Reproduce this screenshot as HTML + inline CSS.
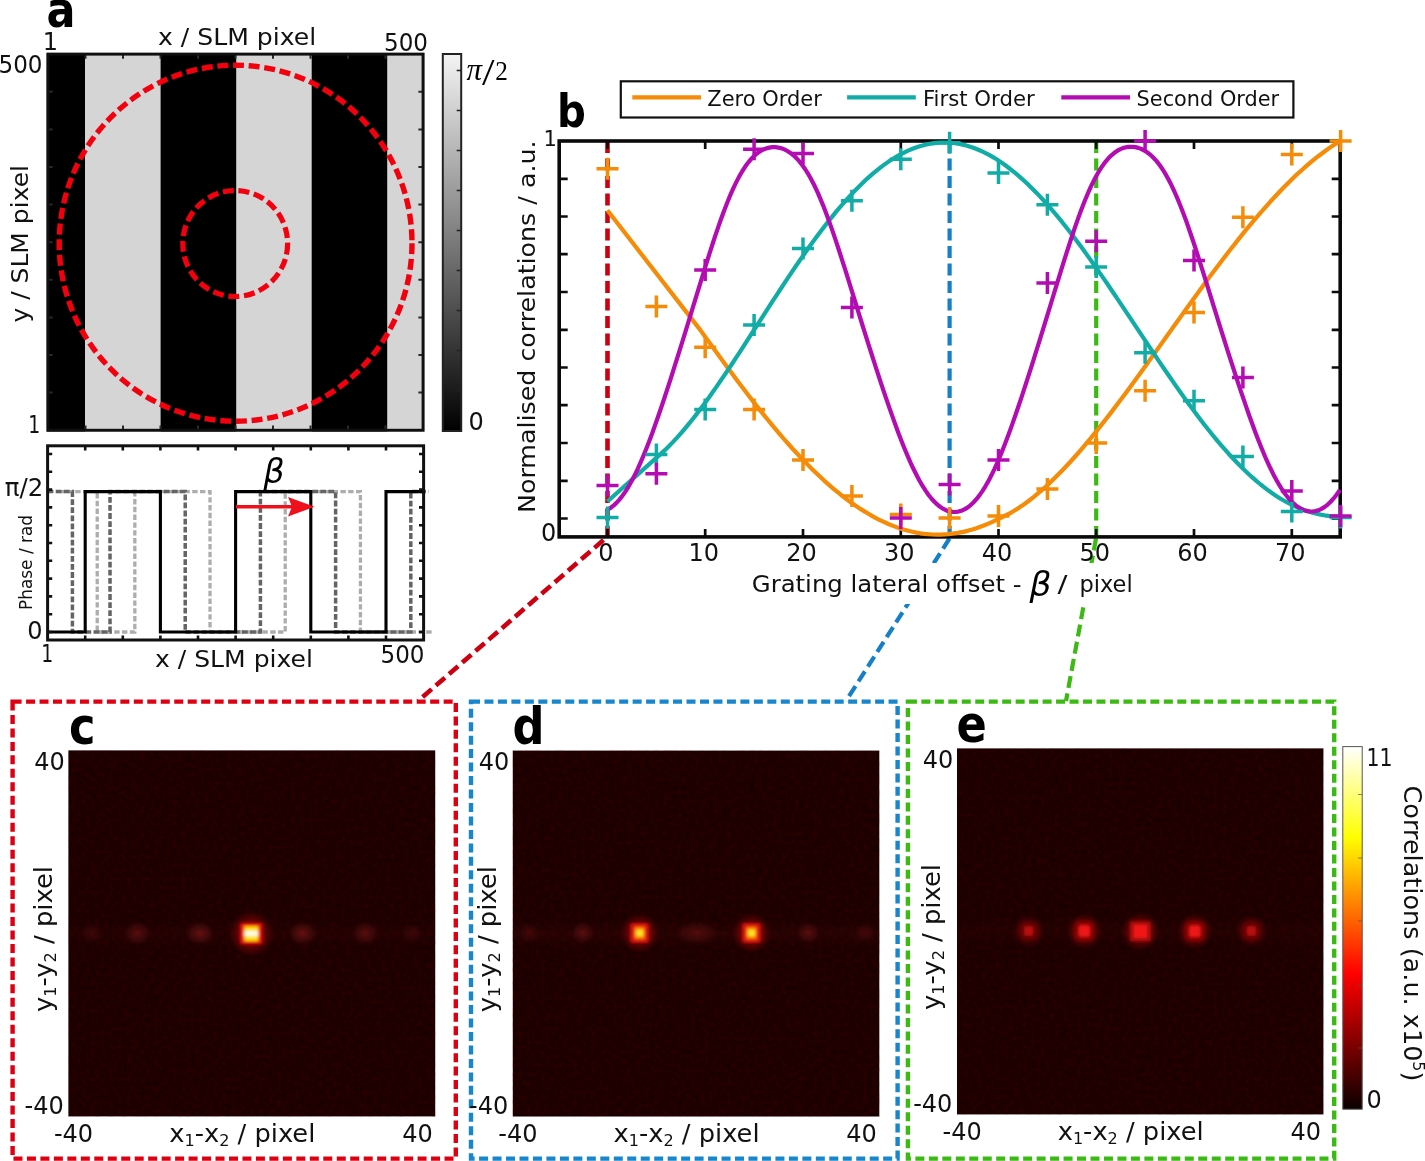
<!DOCTYPE html>
<html lang="en"><head><meta charset="utf-8"><title>Figure</title>
<style>html,body{margin:0;padding:0;background:#fff}svg{display:block}</style></head>
<body>
<svg width="1425" height="1161" viewBox="0 0 1425 1161">
<defs>
<linearGradient id="gray" x1="0" y1="0" x2="0" y2="1"><stop offset="0" stop-color="#f4f4f4"/><stop offset="1" stop-color="#000"/></linearGradient>
<linearGradient id="hot" x1="0" y1="1" x2="0" y2="0">
<stop offset="0" stop-color="#0a0000"/><stop offset="0.375" stop-color="#ff0000"/><stop offset="0.75" stop-color="#ffff00"/><stop offset="1" stop-color="#ffffff"/></linearGradient>
<radialGradient id="spotW"><stop offset="0" stop-color="#ffffd0"/><stop offset="0.3" stop-color="#ffee40"/><stop offset="0.5" stop-color="#ff7000"/><stop offset="0.72" stop-color="#e01000" stop-opacity="0.85"/><stop offset="1" stop-color="#600000" stop-opacity="0"/></radialGradient>
<radialGradient id="spotY"><stop offset="0" stop-color="#ffe020"/><stop offset="0.25" stop-color="#ff9000"/><stop offset="0.5" stop-color="#f02000"/><stop offset="0.75" stop-color="#a00800" stop-opacity="0.8"/><stop offset="1" stop-color="#500000" stop-opacity="0"/></radialGradient>
<radialGradient id="spotR"><stop offset="0" stop-color="#ff1818"/><stop offset="0.45" stop-color="#f01010"/><stop offset="0.75" stop-color="#a00808" stop-opacity="0.8"/><stop offset="1" stop-color="#500000" stop-opacity="0"/></radialGradient>
<radialGradient id="spotD"><stop offset="0" stop-color="#c00c0c"/><stop offset="0.5" stop-color="#900808" stop-opacity="0.85"/><stop offset="1" stop-color="#400000" stop-opacity="0"/></radialGradient>
<radialGradient id="halo"><stop offset="0" stop-color="#900606"/><stop offset="0.5" stop-color="#780404" stop-opacity="0.95"/><stop offset="0.8" stop-color="#500202" stop-opacity="0.55"/><stop offset="1" stop-color="#300000" stop-opacity="0"/></radialGradient>
<radialGradient id="spotF"><stop offset="0" stop-color="#701010" stop-opacity="0.9"/><stop offset="0.6" stop-color="#501010" stop-opacity="0.5"/><stop offset="1" stop-color="#300000" stop-opacity="0"/></radialGradient>
<linearGradient id="band" x1="0" y1="0" x2="0" y2="1"><stop offset="0" stop-color="#3a0606" stop-opacity="0"/><stop offset="0.5" stop-color="#3a0606" stop-opacity="0.7"/><stop offset="1" stop-color="#3a0606" stop-opacity="0"/></linearGradient>
<filter id="blur" x="-5%" y="-5%" width="110%" height="110%"><feGaussianBlur stdDeviation="1.7"/></filter>
<filter id="noise" x="0" y="0" width="100%" height="100%"><feTurbulence type="fractalNoise" baseFrequency="0.22" numOctaves="1" seed="3" result="n"/><feColorMatrix type="matrix" values="0 0 0 0 0.16  0 0 0 0 0  0 0 0 0 0  0.9 0 0 0 -0.32"/></filter>
</defs>
<rect width="1425" height="1161" fill="#fff"/>
<rect x="46.6" y="52.8" width="377.79999999999995" height="378.8" fill="#000"/>
<rect x="85.0" y="52.8" width="75.60" height="378.8" fill="#d5d5d5"/>
<rect x="236.2" y="52.8" width="75.50" height="378.8" fill="#d5d5d5"/>
<rect x="387.2" y="52.8" width="37.20" height="378.8" fill="#d5d5d5"/>
<path d="M85.50 54.199999999999996v4.6 M85.50 430.20000000000005v-4.6 M48.0 91.80h4.6 M423.0 91.80h-4.6 M123.00 54.199999999999996v4.6 M123.00 430.20000000000005v-4.6 M48.0 129.40h4.6 M423.0 129.40h-4.6 M160.50 54.199999999999996v4.6 M160.50 430.20000000000005v-4.6 M48.0 167.00h4.6 M423.0 167.00h-4.6 M198.00 54.199999999999996v4.6 M198.00 430.20000000000005v-4.6 M48.0 204.60h4.6 M423.0 204.60h-4.6 M235.50 54.199999999999996v4.6 M235.50 430.20000000000005v-4.6 M48.0 242.20h4.6 M423.0 242.20h-4.6 M273.00 54.199999999999996v4.6 M273.00 430.20000000000005v-4.6 M48.0 279.80h4.6 M423.0 279.80h-4.6 M310.50 54.199999999999996v4.6 M310.50 430.20000000000005v-4.6 M48.0 317.40h4.6 M423.0 317.40h-4.6 M348.00 54.199999999999996v4.6 M348.00 430.20000000000005v-4.6 M48.0 355.00h4.6 M423.0 355.00h-4.6 M385.50 54.199999999999996v4.6 M385.50 430.20000000000005v-4.6 M48.0 392.60h4.6 M423.0 392.60h-4.6" stroke="#2a2a2a" stroke-width="2" fill="none"/>
<rect x="48.0" y="54.199999999999996" width="375.0" height="376.00000000000006" fill="none" stroke="#101010" stroke-width="2.8"/>
<ellipse cx="235.6" cy="243.2" rx="176.4" ry="178" fill="none" stroke="#f2000e" stroke-width="5.4" stroke-dasharray="11 4.7"/>
<ellipse cx="235.2" cy="243.5" rx="52.4" ry="53" fill="none" stroke="#f2000e" stroke-width="5.2" stroke-dasharray="11 4.7"/>
<g transform="translate(46.5 26.5) scale(0.86 1)">
<text x="0" y="0" font-family='"DejaVu Sans", "Liberation Sans", sans-serif' font-size="50" font-weight="bold" font-style="normal" text-anchor="start" fill="#000">a</text>
</g>
<text x="50.5" y="50.2" font-family='"DejaVu Sans", "Liberation Sans", sans-serif' font-size="24" font-weight="normal" font-style="normal" text-anchor="middle" fill="#111">1</text>
<text x="158" y="45.4" font-family='"DejaVu Sans", "Liberation Sans", sans-serif' font-size="23.3" font-weight="normal" font-style="normal" text-anchor="start" fill="#111" textLength="158.2" lengthAdjust="spacingAndGlyphs">x / SLM pixel</text>
<text x="384" y="50.9" font-family='"DejaVu Sans", "Liberation Sans", sans-serif' font-size="24" font-weight="normal" font-style="normal" text-anchor="start" fill="#111" textLength="44" lengthAdjust="spacingAndGlyphs">500</text>
<text x="-1.5" y="73" font-family='"DejaVu Sans", "Liberation Sans", sans-serif' font-size="24" font-weight="normal" font-style="normal" text-anchor="start" fill="#111" textLength="44" lengthAdjust="spacingAndGlyphs">500</text>
<text x="28.2" y="433.3" font-family='"DejaVu Sans", "Liberation Sans", sans-serif' font-size="24" font-weight="normal" font-style="normal" text-anchor="start" fill="#111" textLength="12" lengthAdjust="spacingAndGlyphs">1</text>
<text x="28.4" y="322.5" transform="rotate(-90 28.4 322.5)" font-family='"DejaVu Sans", "Liberation Sans", sans-serif' font-size="23.3" font-weight="normal" font-style="normal" text-anchor="start" fill="#111" textLength="157.5" lengthAdjust="spacingAndGlyphs">y / SLM pixel</text>
<rect x="442.8" y="54" width="18.4" height="377" fill="url(#gray)" stroke="#222" stroke-width="2"/>
<path d="M461.2 70.5h-4.5 M461.2 110.5h-4.5 M461.2 150.5h-4.5 M461.2 190.5h-4.5 M461.2 230.5h-4.5 M461.2 270.5h-4.5 M461.2 310.5h-4.5 M461.2 350.5h-4.5 M461.2 390.5h-4.5" stroke="#222" stroke-width="1.6" fill="none"/>
<text x="466.5" y="79.8" font-family='"Liberation Serif", "DejaVu Serif", serif' font-size="31" font-weight="normal" font-style="italic" text-anchor="start" fill="#000">π</text>
<text x="482" y="84.5" font-family='"Liberation Serif", "DejaVu Serif", serif' font-size="38" font-weight="normal" font-style="normal" text-anchor="start" fill="#000" textLength="12.5" lengthAdjust="spacingAndGlyphs">/</text>
<text x="495.3" y="80.4" font-family='"Liberation Serif", "DejaVu Serif", serif' font-size="27" font-weight="normal" font-style="normal" text-anchor="start" fill="#000" textLength="12.6" lengthAdjust="spacingAndGlyphs">2</text>
<text x="468.5" y="430" font-family='"DejaVu Sans", "Liberation Sans", sans-serif' font-size="24" font-weight="normal" font-style="normal" text-anchor="start" fill="#111">0</text>
<path d="M59.63 491.60 L97.23 491.60 L97.23 632.00 L134.83 632.00 L134.83 491.60 L210.03 491.60 L210.03 632.00 L285.23 632.00 L285.23 491.60 L360.43 491.60 L360.43 632.00 L423.60 632.00 h10" fill="none" stroke="#adadad" stroke-width="3.3" stroke-dasharray="5.4 2.4"/>
<path d="M47.60 491.60 L72.42 491.60 L72.42 632.00 L110.02 632.00 L110.02 491.60 L185.22 491.60 L185.22 632.00 L260.42 632.00 L260.42 491.60 L335.62 491.60 L335.62 632.00 L410.82 632.00 L410.82 491.60 L423.60 491.60 h5" fill="none" stroke="#646464" stroke-width="3.5" stroke-dasharray="5.8 2.3"/>
<path d="M47.60 632.00 L85.20 632.00 L85.20 491.60 L160.40 491.60 L160.40 632.00 L235.60 632.00 L235.60 491.60 L310.80 491.60 L310.80 632.00 L386.00 632.00 L386.00 491.60 L423.60 491.60" fill="none" stroke="#000" stroke-width="3.1" stroke-linejoin="miter"/>
<path d="M85.20 445.8v4.6 M85.20 640.0v-4.6 M122.80 445.8v4.6 M122.80 640.0v-4.6 M160.40 445.8v4.6 M160.40 640.0v-4.6 M198.00 445.8v4.6 M198.00 640.0v-4.6 M235.60 445.8v4.6 M235.60 640.0v-4.6 M273.20 445.8v4.6 M273.20 640.0v-4.6 M310.80 445.8v4.6 M310.80 640.0v-4.6 M348.40 445.8v4.6 M348.40 640.0v-4.6 M386.00 445.8v4.6 M386.00 640.0v-4.6 M47.6 632.00h4.6 M423.6 632.00h-4.6 M47.6 614.20h4.6 M423.6 614.20h-4.6 M47.6 596.40h4.6 M423.6 596.40h-4.6 M47.6 578.60h4.6 M423.6 578.60h-4.6 M47.6 560.80h4.6 M423.6 560.80h-4.6 M47.6 543.00h4.6 M423.6 543.00h-4.6 M47.6 525.20h4.6 M423.6 525.20h-4.6 M47.6 507.40h4.6 M423.6 507.40h-4.6 M47.6 489.60h4.6 M423.6 489.60h-4.6 M47.6 471.80h4.6 M423.6 471.80h-4.6 M47.6 454.00h4.6 M423.6 454.00h-4.6" stroke="#111" stroke-width="2.6" fill="none"/>
<rect x="47.6" y="445.8" width="376.0" height="194.2" fill="none" stroke="#111" stroke-width="3.0"/>
<path d="M236 506.8H296" stroke="#f0101c" stroke-width="3.4" fill="none"/>
<path d="M314.5 506.8L288 497 L292 506.8 L288 516.6Z" fill="#f0101c"/>
<text x="263.5" y="483.2" font-family='"DejaVu Sans", "Liberation Sans", sans-serif' font-size="33" font-weight="normal" font-style="italic" text-anchor="start" fill="#000">β</text>
<text x="4.8" y="495.9" font-family='"DejaVu Sans", "Liberation Sans", sans-serif' font-size="24" font-weight="normal" font-style="normal" text-anchor="start" fill="#111" textLength="38.4" lengthAdjust="spacingAndGlyphs">π/2</text>
<text x="27.2" y="639.4" font-family='"DejaVu Sans", "Liberation Sans", sans-serif' font-size="24" font-weight="normal" font-style="normal" text-anchor="start" fill="#111">0</text>
<text x="32.4" y="562.5" transform="rotate(-90 32.4 562.5)" font-family='"DejaVu Sans", "Liberation Sans", sans-serif' font-size="17.3" font-weight="normal" font-style="normal" text-anchor="middle" fill="#111" textLength="95" lengthAdjust="spacingAndGlyphs">Phase / rad</text>
<text x="41.3" y="661.9" font-family='"DejaVu Sans", "Liberation Sans", sans-serif' font-size="24" font-weight="normal" font-style="normal" text-anchor="start" fill="#111" textLength="12" lengthAdjust="spacingAndGlyphs">1</text>
<text x="155" y="666.6" font-family='"DejaVu Sans", "Liberation Sans", sans-serif' font-size="23.3" font-weight="normal" font-style="normal" text-anchor="start" fill="#111" textLength="158" lengthAdjust="spacingAndGlyphs">x / SLM pixel</text>
<text x="380.5" y="663" font-family='"DejaVu Sans", "Liberation Sans", sans-serif' font-size="24" font-weight="normal" font-style="normal" text-anchor="start" fill="#111" textLength="44" lengthAdjust="spacingAndGlyphs">500</text>
<path d="M607.5 141.0V536.9" stroke="#cc0010" stroke-width="4.6" stroke-dasharray="12 5.5" fill="none"/>
<path d="M949.6 141.0V536.9" stroke="#1580c8" stroke-width="4.2" stroke-dasharray="12 5.5" fill="none"/>
<path d="M1096.2 141.0V536.9" stroke="#3cba14" stroke-width="4.2" stroke-dasharray="12 5.5" fill="none"/>
<path d="M603.5 540 L418 701" stroke="#cc0010" stroke-width="4.6" stroke-dasharray="12 5.5" fill="none"/>
<path d="M949.5 538.5 L846 701" stroke="#1580c8" stroke-width="4.2" stroke-dasharray="12 5.5" fill="none"/>
<path d="M1096 538.5 L1066 701" stroke="#3cba14" stroke-width="4.2" stroke-dasharray="12 5.5" fill="none"/>
<path d="M607.5 141.0v8 M607.5 536.9v-8 M705.2 141.0v8 M705.2 536.9v-8 M803.0 141.0v8 M803.0 536.9v-8 M900.8 141.0v8 M900.8 536.9v-8 M998.5 141.0v8 M998.5 536.9v-8 M1096.2 141.0v8 M1096.2 536.9v-8 M1194.0 141.0v8 M1194.0 536.9v-8 M1291.8 141.0v8 M1291.8 536.9v-8 M559.2 178.8h8.5 M1340.2 178.8h-8.5 M559.2 216.5h8.5 M1340.2 216.5h-8.5 M559.2 254.2h8.5 M1340.2 254.2h-8.5 M559.2 292.0h8.5 M1340.2 292.0h-8.5 M559.2 329.8h8.5 M1340.2 329.8h-8.5 M559.2 367.5h8.5 M1340.2 367.5h-8.5 M559.2 405.2h8.5 M1340.2 405.2h-8.5 M559.2 443.0h8.5 M1340.2 443.0h-8.5 M559.2 480.8h8.5 M1340.2 480.8h-8.5 M559.2 518.5h8.5 M1340.2 518.5h-8.5" stroke="#0c0c0c" stroke-width="2.7" fill="none"/>
<rect x="559.2" y="141.0" width="781.0" height="395.9" fill="none" stroke="#0a0a0a" stroke-width="3.6"/>
<path d="M607.4 210.3 L700.4 330.1 L704.4 335.7 L708.4 341.3 L712.4 346.8 L716.4 352.3 L720.4 357.8 L724.4 363.3 L728.4 368.7 L732.4 374.1 L736.4 379.5 L740.4 384.8 L744.4 390.1 L748.4 395.3 L752.4 400.4 L756.4 405.6 L760.4 410.6 L764.4 415.6 L768.4 420.5 L772.4 425.4 L776.4 430.1 L780.4 434.8 L784.4 439.5 L788.4 444.0 L792.4 448.5 L796.4 452.8 L800.4 457.1 L804.4 461.3 L808.4 465.4 L812.4 469.4 L816.4 473.3 L820.4 477.1 L824.4 480.8 L828.4 484.3 L832.4 487.8 L836.4 491.2 L840.4 494.4 L844.4 497.5 L848.4 500.6 L852.4 503.5 L856.4 506.2 L860.4 508.9 L864.4 511.4 L868.4 513.8 L872.4 516.1 L876.4 518.3 L880.4 520.3 L884.4 522.2 L888.4 524.0 L892.4 525.6 L896.4 527.1 L900.4 528.5 L904.4 529.7 L908.4 530.8 L912.4 531.7 L916.4 532.6 L920.4 533.3 L924.4 533.8 L928.4 534.2 L932.4 534.5 L936.4 534.6 L940.4 534.6 L944.4 534.4 L948.4 534.2 L952.4 533.7 L956.4 533.2 L960.4 532.4 L964.4 531.6 L968.4 530.6 L972.4 529.5 L976.4 528.2 L980.4 526.8 L984.4 525.3 L988.4 523.6 L992.4 521.8 L996.4 519.8 L998.2 518.9 L1002.2 517.2 L1006.2 515.2 L1010.2 513.1 L1014.2 510.8 L1018.2 508.2 L1022.2 505.6 L1026.2 502.7 L1030.2 499.7 L1034.2 496.6 L1038.2 493.2 L1042.2 489.8 L1046.2 486.2 L1050.2 482.5 L1054.2 478.6 L1058.2 474.6 L1062.2 470.5 L1066.2 466.3 L1070.2 462.0 L1074.2 457.5 L1078.2 453.0 L1082.2 448.4 L1086.2 443.6 L1090.2 438.8 L1094.2 433.9 L1098.2 429.0 L1102.2 423.9 L1106.2 418.8 L1110.2 413.6 L1114.2 408.4 L1118.2 403.1 L1122.2 397.8 L1126.2 392.4 L1130.2 387.0 L1134.2 381.5 L1138.2 376.0 L1142.2 370.5 L1146.2 365.0 L1150.2 359.4 L1154.2 353.8 L1158.2 348.2 L1162.2 342.6 L1166.2 337.0 L1170.2 331.4 L1174.2 325.8 L1178.2 320.2 L1182.2 314.6 L1186.2 309.0 L1190.2 303.5 L1194.2 298.0 L1198.2 292.5 L1202.2 287.0 L1206.2 281.5 L1210.2 276.1 L1214.2 270.8 L1218.2 265.4 L1222.2 260.2 L1226.2 254.9 L1230.2 249.8 L1234.2 244.7 L1238.2 239.6 L1242.2 234.6 L1246.2 229.7 L1250.2 224.9 L1254.2 220.1 L1258.2 215.4 L1262.2 210.8 L1266.2 206.3 L1270.2 201.8 L1274.2 197.5 L1278.2 193.2 L1282.2 189.0 L1286.2 184.9 L1290.2 181.0 L1294.2 177.1 L1298.2 173.3 L1302.2 169.7 L1306.2 166.2 L1310.2 162.7 L1314.2 159.4 L1318.2 156.2 L1322.2 153.2 L1326.2 150.2 L1330.2 147.4 L1334.2 144.7 L1338.2 142.2 L1340.0 141.1" fill="none" stroke="#f58b06" stroke-width="4.2" stroke-linejoin="round"/>
<path d="M607.4 501.5 L656.6 457.6 L660.6 454.1 L664.6 450.4 L668.6 446.5 L672.6 442.4 L676.6 438.1 L680.6 433.6 L684.6 429.0 L688.6 424.2 L692.6 419.2 L696.6 414.1 L700.6 408.8 L704.6 403.4 L708.6 397.9 L712.6 392.3 L716.6 386.6 L720.6 380.8 L724.6 374.9 L728.6 369.0 L732.6 363.0 L736.6 356.9 L740.6 350.8 L744.6 344.6 L748.6 338.4 L752.6 332.2 L756.6 326.0 L760.6 319.8 L764.6 313.6 L768.6 307.4 L772.6 301.2 L776.6 295.1 L780.6 289.0 L784.6 282.9 L788.6 276.9 L792.6 270.9 L796.6 265.0 L800.6 259.2 L804.6 253.5 L808.6 247.8 L812.6 242.3 L816.6 236.8 L820.6 231.5 L824.6 226.2 L828.6 221.1 L832.6 216.1 L836.6 211.2 L840.6 206.5 L844.6 201.9 L848.6 197.4 L852.6 193.1 L856.6 188.9 L860.6 184.9 L864.6 181.1 L868.6 177.4 L872.6 173.9 L876.6 170.6 L880.6 167.4 L884.6 164.4 L888.6 161.6 L892.6 159.0 L896.6 156.6 L900.6 154.3 L904.6 152.3 L908.6 150.4 L912.6 148.7 L916.6 147.3 L920.6 146.0 L924.6 144.9 L928.6 144.0 L932.6 143.4 L936.6 142.9 L940.6 142.6 L944.6 142.5 L948.6 142.6 L952.6 143.0 L956.6 143.5 L960.6 144.2 L964.6 145.1 L968.6 146.2 L972.6 147.5 L976.6 149.0 L980.6 150.7 L984.6 152.6 L988.6 154.6 L992.6 156.9 L996.6 159.3 L1000.6 161.9 L1004.6 164.7 L1008.6 167.7 L1012.6 170.8 L1016.6 174.1 L1020.6 177.6 L1024.6 181.2 L1028.6 184.9 L1032.6 188.9 L1036.6 192.9 L1040.6 197.1 L1044.6 201.5 L1048.6 206.0 L1052.6 210.6 L1056.6 215.3 L1060.6 220.2 L1064.6 225.2 L1068.6 230.2 L1072.6 235.4 L1076.6 240.7 L1080.6 246.1 L1084.6 251.5 L1088.6 257.1 L1092.6 262.7 L1096.6 268.4 L1100.6 274.1 L1104.6 279.9 L1108.6 285.8 L1112.6 291.7 L1116.6 297.6 L1120.6 303.6 L1124.6 309.6 L1128.6 315.6 L1132.6 321.6 L1136.6 327.6 L1140.6 333.6 L1144.6 339.7 L1148.6 345.7 L1152.6 351.7 L1156.6 357.6 L1160.6 363.6 L1164.6 369.5 L1168.6 375.3 L1172.6 381.1 L1176.6 386.9 L1180.6 392.5 L1184.6 398.1 L1188.6 403.7 L1192.6 409.1 L1196.6 414.5 L1200.6 419.8 L1204.6 425.0 L1208.6 430.0 L1212.6 435.0 L1216.6 439.9 L1220.6 444.6 L1224.6 449.2 L1228.6 453.7 L1232.6 458.0 L1236.6 462.3 L1240.6 466.3 L1244.6 470.3 L1248.6 474.0 L1252.6 477.7 L1256.6 481.2 L1260.6 484.5 L1264.6 487.6 L1268.6 490.6 L1272.6 493.5 L1276.6 496.2 L1280.6 498.7 L1284.6 501.0 L1288.6 503.2 L1292.6 505.2 L1296.6 507.0 L1300.6 508.7 L1304.6 510.2 L1308.6 511.5 L1312.6 512.7 L1316.6 513.7 L1320.6 514.6 L1324.6 515.3 L1328.6 515.8 L1332.6 516.2 L1336.6 516.4 L1340.0 516.5" fill="none" stroke="#12aca6" stroke-width="4.2" stroke-linejoin="round"/>
<path d="M607.4 509.8 L610.4 508.0 L613.4 505.7 L616.4 502.9 L619.4 499.6 L622.4 495.8 L625.4 491.6 L628.4 486.8 L631.4 481.5 L634.4 475.8 L637.4 469.6 L640.4 462.9 L643.4 455.9 L646.4 448.5 L649.4 440.7 L652.4 432.7 L655.4 424.3 L658.4 415.8 L661.4 407.0 L664.4 398.0 L667.4 388.9 L670.4 379.6 L673.4 370.2 L676.4 360.7 L679.4 351.2 L682.4 341.5 L685.4 331.8 L688.4 322.0 L691.4 312.2 L694.4 302.4 L697.4 292.6 L700.4 282.8 L703.4 273.0 L706.4 263.4 L709.4 253.8 L712.4 244.5 L715.4 235.4 L718.4 226.6 L721.4 218.0 L724.4 209.9 L727.4 202.2 L730.4 194.9 L733.4 188.1 L736.4 181.9 L739.4 176.1 L742.4 171.0 L745.4 166.3 L748.4 162.3 L751.4 158.7 L754.4 155.7 L757.4 153.2 L760.4 151.1 L763.4 149.5 L766.4 148.4 L769.4 147.6 L772.4 147.2 L775.4 147.2 L778.4 147.6 L781.4 148.3 L784.4 149.4 L787.4 151.0 L790.4 152.9 L793.4 155.3 L796.4 158.1 L799.4 161.4 L802.4 165.2 L805.4 169.5 L808.4 174.3 L811.4 179.7 L814.4 185.5 L817.4 191.9 L820.4 198.8 L823.4 206.1 L826.4 213.9 L829.4 222.1 L832.4 230.6 L835.4 239.4 L838.4 248.5 L841.4 257.8 L844.4 267.2 L847.4 276.7 L850.4 286.4 L853.4 296.0 L856.4 305.7 L859.4 315.4 L862.4 325.0 L865.4 334.6 L868.4 344.1 L871.4 353.5 L874.4 362.9 L877.4 372.1 L880.4 381.3 L883.4 390.3 L886.4 399.2 L889.4 407.9 L892.4 416.4 L895.4 424.8 L898.4 432.9 L901.4 440.7 L904.4 448.2 L907.4 455.4 L910.4 462.3 L913.4 468.8 L916.4 474.8 L919.4 480.5 L922.4 485.7 L925.4 490.4 L928.4 494.7 L931.4 498.5 L934.4 501.8 L937.4 504.6 L940.4 507.0 L943.4 508.9 L946.4 510.4 L949.4 511.4 L952.4 511.9 L955.4 512.0 L958.4 511.6 L961.4 510.7 L964.4 509.4 L967.4 507.6 L970.4 505.3 L973.4 502.5 L976.4 499.2 L979.4 495.4 L982.4 491.1 L985.4 486.3 L988.4 481.1 L991.4 475.3 L994.4 469.1 L997.4 462.5 L1000.4 455.5 L1003.4 448.0 L1006.4 440.3 L1009.4 432.2 L1012.4 423.9 L1015.4 415.3 L1018.4 406.5 L1021.4 397.6 L1024.4 388.4 L1027.4 379.2 L1030.4 369.8 L1033.4 360.3 L1036.4 350.7 L1039.4 341.1 L1042.4 331.4 L1045.4 321.6 L1048.4 311.8 L1051.4 302.0 L1054.4 292.1 L1057.4 282.3 L1060.4 272.6 L1063.4 262.9 L1066.4 253.4 L1069.4 244.1 L1072.4 235.0 L1075.4 226.1 L1078.4 217.6 L1081.4 209.5 L1084.4 201.7 L1087.4 194.5 L1090.4 187.7 L1093.4 181.4 L1096.4 175.7 L1099.4 170.5 L1102.4 165.9 L1105.4 161.8 L1108.4 158.3 L1111.4 155.3 L1114.4 152.8 L1117.4 150.7 L1120.4 149.1 L1123.4 147.9 L1126.4 147.2 L1129.4 146.8 L1132.4 146.8 L1135.4 147.1 L1138.4 147.9 L1141.4 149.0 L1144.4 150.5 L1147.4 152.5 L1150.4 154.8 L1153.4 157.7 L1156.4 160.9 L1159.4 164.7 L1162.4 169.0 L1165.4 173.9 L1168.4 179.2 L1171.4 185.1 L1174.4 191.5 L1177.4 198.4 L1180.4 205.7 L1183.4 213.5 L1186.4 221.6 L1189.4 230.2 L1192.4 239.0 L1195.4 248.0 L1198.4 257.3 L1201.4 266.8 L1204.4 276.3 L1207.4 285.9 L1210.4 295.6 L1213.4 305.3 L1216.4 314.9 L1219.4 324.6 L1222.4 334.1 L1225.4 343.6 L1228.4 353.1 L1231.4 362.4 L1234.4 371.7 L1237.4 380.8 L1240.4 389.8 L1243.4 398.7 L1246.4 407.4 L1249.4 416.0 L1252.4 424.3 L1255.4 432.4 L1258.4 440.2 L1261.4 447.8 L1264.4 455.0 L1267.4 461.8 L1270.4 468.3 L1273.4 474.4 L1276.4 480.0 L1279.4 485.2 L1282.4 490.0 L1285.4 494.2 L1288.4 498.0 L1291.4 501.3 L1294.4 504.2 L1297.4 506.6 L1300.4 508.5 L1303.4 509.9 L1306.4 510.9 L1309.4 511.4 L1312.4 511.5 L1315.4 511.1 L1318.4 510.3 L1321.4 508.9 L1324.4 507.1 L1327.4 504.8 L1330.4 502.0 L1333.4 498.7 L1336.4 495.0 L1339.4 490.7 L1340.0 489.8" fill="none" stroke="#b20cb2" stroke-width="4.2" stroke-linejoin="round"/>
<path d="M596.5 168.7h22M607.5 157.7v22 M645.4 306.6h22M656.4 295.6v22 M694.2 347.3h22M705.2 336.3v22 M743.1 409.4h22M754.1 398.4v22 M792.0 460.1h22M803.0 449.1v22 M840.9 496.0h22M851.9 485.0v22 M889.8 514.5h22M900.8 503.5v22 M938.6 518.0h22M949.6 507.0v22 M987.5 516.1h22M998.5 505.1v22 M1036.4 489.1h22M1047.4 478.1v22 M1085.2 443.1h22M1096.2 432.1v22 M1134.1 390.8h22M1145.1 379.8v22 M1183.0 312.5h22M1194.0 301.5v22 M1231.9 217.2h22M1242.9 206.2v22 M1280.8 154.6h22M1291.8 143.6v22 M1329.6 141.0h22M1340.6 130.0v22" stroke="#f58b06" stroke-width="3.5" fill="none"/>
<path d="M596.5 517.6h22M607.5 506.6v22 M645.4 454.6h22M656.4 443.6v22 M694.2 409.4h22M705.2 398.4v22 M743.1 324.9h22M754.1 313.9v22 M792.0 248.6h22M803.0 237.6v22 M840.9 200.8h22M851.9 189.8v22 M889.8 159.2h22M900.8 148.2v22 M938.6 142.8h22M949.6 131.8v22 M987.5 172.9h22M998.5 161.9v22 M1036.4 204.8h22M1047.4 193.8v22 M1085.2 266.9h22M1096.2 255.9v22 M1134.1 352.8h22M1145.1 341.8v22 M1183.0 400.8h22M1194.0 389.8v22 M1231.9 456.5h22M1242.9 445.5v22 M1280.8 511.6h22M1291.8 500.6v22 M1329.6 517.5h22M1340.6 506.5v22" stroke="#12aca6" stroke-width="3.5" fill="none"/>
<path d="M596.5 485.5h22M607.5 474.5v22 M645.4 473.8h22M656.4 462.8v22 M694.2 270.1h22M705.2 259.1v22 M743.1 149.2h22M754.1 138.2v22 M792.0 153.4h22M803.0 142.4v22 M840.9 307.4h22M851.9 296.4v22 M889.8 518.0h22M900.8 507.0v22 M938.6 484.6h22M949.6 473.6v22 M987.5 460.1h22M998.5 449.1v22 M1036.4 282.9h22M1047.4 271.9v22 M1085.2 241.3h22M1096.2 230.3v22 M1134.1 141.0h22M1145.1 130.0v22 M1183.0 260.5h22M1194.0 249.5v22 M1231.9 377.4h22M1242.9 366.4v22 M1280.8 491.0h22M1291.8 480.0v22 M1329.6 516.0h22M1340.6 505.0v22" stroke="#b20cb2" stroke-width="3.5" fill="none"/>
<text x="606.0" y="560.6" font-family='"DejaVu Sans", "Liberation Sans", sans-serif' font-size="24" font-weight="normal" font-style="normal" text-anchor="middle" fill="#111">0</text>
<text x="703.75" y="560.6" font-family='"DejaVu Sans", "Liberation Sans", sans-serif' font-size="24" font-weight="normal" font-style="normal" text-anchor="middle" fill="#111">10</text>
<text x="801.5" y="560.6" font-family='"DejaVu Sans", "Liberation Sans", sans-serif' font-size="24" font-weight="normal" font-style="normal" text-anchor="middle" fill="#111">20</text>
<text x="899.25" y="560.6" font-family='"DejaVu Sans", "Liberation Sans", sans-serif' font-size="24" font-weight="normal" font-style="normal" text-anchor="middle" fill="#111">30</text>
<text x="997.0" y="560.6" font-family='"DejaVu Sans", "Liberation Sans", sans-serif' font-size="24" font-weight="normal" font-style="normal" text-anchor="middle" fill="#111">40</text>
<text x="1094.75" y="560.6" font-family='"DejaVu Sans", "Liberation Sans", sans-serif' font-size="24" font-weight="normal" font-style="normal" text-anchor="middle" fill="#111">50</text>
<text x="1192.5" y="560.6" font-family='"DejaVu Sans", "Liberation Sans", sans-serif' font-size="24" font-weight="normal" font-style="normal" text-anchor="middle" fill="#111">60</text>
<text x="1290.25" y="560.6" font-family='"DejaVu Sans", "Liberation Sans", sans-serif' font-size="24" font-weight="normal" font-style="normal" text-anchor="middle" fill="#111">70</text>
<text x="541" y="541.2" font-family='"DejaVu Sans", "Liberation Sans", sans-serif' font-size="24" font-weight="normal" font-style="normal" text-anchor="start" fill="#111">0</text>
<text x="543.5" y="146" font-family='"DejaVu Sans", "Liberation Sans", sans-serif' font-size="21" font-weight="normal" font-style="normal" text-anchor="start" fill="#111">1</text>
<g transform="translate(557 127.3) scale(0.86 1)">
<text x="0" y="0" font-family='"DejaVu Sans", "Liberation Sans", sans-serif' font-size="47" font-weight="bold" font-style="normal" text-anchor="start" fill="#000">b</text>
</g>
<text x="535" y="513" transform="rotate(-90 535 513)" font-family='"DejaVu Sans", "Liberation Sans", sans-serif' font-size="23.3" font-weight="normal" font-style="normal" text-anchor="start" fill="#111" textLength="372.5" lengthAdjust="spacingAndGlyphs">Normalised correlations / a.u.</text>
<rect x="746" y="563" width="392" height="41" fill="#fff"/>
<text x="751.8" y="591.8" font-family='"DejaVu Sans", "Liberation Sans", sans-serif' font-size="23.3" font-weight="normal" font-style="normal" text-anchor="start" fill="#111" textLength="269.7" lengthAdjust="spacingAndGlyphs">Grating lateral offset -</text>
<text x="1029.5" y="596" font-family='"DejaVu Sans", "Liberation Sans", sans-serif' font-size="34.5" font-weight="normal" font-style="italic" text-anchor="start" fill="#000">β</text>
<text x="1057.5" y="591.8" font-family='"DejaVu Sans", "Liberation Sans", sans-serif' font-size="23.3" font-weight="normal" font-style="normal" text-anchor="start" fill="#111" textLength="10" lengthAdjust="spacingAndGlyphs">/</text>
<text x="1079.4" y="591.8" font-family='"DejaVu Sans", "Liberation Sans", sans-serif' font-size="23.3" font-weight="normal" font-style="normal" text-anchor="start" fill="#111" textLength="53.3" lengthAdjust="spacingAndGlyphs">pixel</text>
<rect x="620.8" y="81.3" width="672.6" height="36.2" fill="#fff" stroke="#111" stroke-width="2.2"/>
<path d="M632.3 97.4H701" stroke="#f58b06" stroke-width="4.3"/>
<path d="M847.1 97.4H915.8" stroke="#12aca6" stroke-width="4.3"/>
<path d="M1061.3 97.4H1130" stroke="#b20cb2" stroke-width="4.3"/>
<text x="707.3" y="106.1" font-family='"DejaVu Sans", "Liberation Sans", sans-serif' font-size="21" font-weight="normal" font-style="normal" text-anchor="start" fill="#111" textLength="114.5" lengthAdjust="spacingAndGlyphs">Zero Order</text>
<text x="922.9" y="106.1" font-family='"DejaVu Sans", "Liberation Sans", sans-serif' font-size="21" font-weight="normal" font-style="normal" text-anchor="start" fill="#111" textLength="111.8" lengthAdjust="spacingAndGlyphs">First Order</text>
<text x="1136.6" y="106.1" font-family='"DejaVu Sans", "Liberation Sans", sans-serif' font-size="21" font-weight="normal" font-style="normal" text-anchor="start" fill="#111" textLength="142.5" lengthAdjust="spacingAndGlyphs">Second Order</text>
<path d="M12.6 701.6H455.8V1158.6H12.6Z" fill="none" stroke="#dd0012" stroke-width="4.4" stroke-dasharray="9 4.47"/>
<path d="M471 701.6H897.6V1158.6H471Z" fill="none" stroke="#1886cc" stroke-width="4.4" stroke-dasharray="9 4.47"/>
<path d="M907.9 701.6H1334.2V1158.6H907.9Z" fill="none" stroke="#3cba14" stroke-width="4.4" stroke-dasharray="9 4.47"/>
<rect x="68.4" y="750.4" width="366.79999999999995" height="366.0000000000001" fill="#1b0000"/>
<rect x="68.4" y="750.4" width="366.79999999999995" height="366.0000000000001" filter="url(#noise)" opacity="0.42"/>
<rect x="68.4" y="920.4000000000001" width="366.79999999999995" height="26" fill="url(#band)" opacity="0.3"/>
<ellipse cx="251.3" cy="933.6" rx="24" ry="24" fill="url(#halo)" opacity="0.9"/>
<ellipse cx="137.3" cy="933.3" rx="15" ry="13" fill="url(#spotF)" opacity="0.8"/>
<ellipse cx="200" cy="933.3" rx="16" ry="13" fill="url(#spotF)" opacity="1"/>
<ellipse cx="302.7" cy="933.3" rx="16" ry="13" fill="url(#spotF)" opacity="1"/>
<ellipse cx="365.3" cy="933.3" rx="15" ry="13" fill="url(#spotF)" opacity="0.8"/>
<ellipse cx="92" cy="933.3" rx="12" ry="11" fill="url(#spotF)" opacity="0.4"/>
<ellipse cx="412" cy="933.3" rx="12" ry="11" fill="url(#spotF)" opacity="0.4"/>
<g filter="url(#blur)">
<rect x="240.0" y="923.0" width="22.6" height="21.2" rx="2" fill="#e00a0a" fill-opacity="1"/>
<rect x="244.3" y="926.2" width="14.0" height="14.8" rx="1" fill="#ffe000" fill-opacity="1"/>
<rect x="244.3" y="931.0" width="14.0" height="5.2" rx="0" fill="#fffbe6" fill-opacity="1"/>
</g>
<rect x="512.8" y="750.6" width="366.5" height="365.9" fill="#1b0000"/>
<rect x="512.8" y="750.6" width="366.5" height="365.9" filter="url(#noise)" opacity="0.42"/>
<rect x="512.8" y="920.55" width="366.5" height="26" fill="url(#band)" opacity="0.5"/>
<ellipse cx="639.6" cy="933" rx="21" ry="21" fill="url(#halo)" opacity="0.85"/>
<ellipse cx="751.5" cy="933" rx="21" ry="21" fill="url(#halo)" opacity="0.85"/>
<ellipse cx="582.7" cy="932.8" rx="13" ry="12" fill="url(#spotF)" opacity="0.8"/>
<ellipse cx="808" cy="932.8" rx="13" ry="12" fill="url(#spotF)" opacity="0.8"/>
<ellipse cx="697" cy="932.8" rx="24" ry="13" fill="url(#spotF)" opacity="0.7"/>
<ellipse cx="529" cy="932.8" rx="12" ry="11" fill="url(#spotF)" opacity="0.45"/>
<ellipse cx="865" cy="932.8" rx="12" ry="11" fill="url(#spotF)" opacity="0.45"/>
<g filter="url(#blur)">
<rect x="630.0" y="923.0" width="19.2" height="20.0" rx="3" fill="#cc0808" fill-opacity="1"/>
<rect x="634.2" y="926.6" width="10.8" height="12.8" rx="1.5" fill="#ff6c00" fill-opacity="1"/>
<rect x="636.0" y="929.6" width="7.2" height="6.8" rx="1" fill="#ffe428" fill-opacity="1"/>
<rect x="741.9" y="923.0" width="19.2" height="20.0" rx="3" fill="#cc0808" fill-opacity="1"/>
<rect x="746.1" y="926.6" width="10.8" height="12.8" rx="1.5" fill="#ff6c00" fill-opacity="1"/>
<rect x="747.9" y="929.6" width="7.2" height="6.8" rx="1" fill="#ffe428" fill-opacity="1"/>
</g>
<rect x="957" y="748.4" width="366.4000000000001" height="366.0000000000001" fill="#1b0000"/>
<rect x="957" y="748.4" width="366.4000000000001" height="366.0000000000001" filter="url(#noise)" opacity="0.42"/>
<rect x="957" y="918.4000000000001" width="366.4000000000001" height="26" fill="url(#band)" opacity="0.3"/>
<ellipse cx="1028.7" cy="931" rx="17" ry="17" fill="url(#halo)" opacity="0.6"/>
<ellipse cx="1251.3" cy="931" rx="17" ry="17" fill="url(#halo)" opacity="0.6"/>
<ellipse cx="1084.3" cy="931" rx="19" ry="19" fill="url(#halo)" opacity="0.75"/>
<ellipse cx="1194.7" cy="931.3" rx="19" ry="19" fill="url(#halo)" opacity="0.75"/>
<ellipse cx="1140.4" cy="931.4" rx="21" ry="20" fill="url(#halo)" opacity="0.8"/>
<g filter="url(#blur)">
<rect x="1019.9" y="922.2" width="17.6" height="17.6" rx="5" fill="#640606" fill-opacity="0.75"/>
<rect x="1024.1" y="926.2" width="9.2" height="9.6" rx="2.5" fill="#b80c0c" fill-opacity="1"/>
<rect x="1242.5" y="922.2" width="17.6" height="17.6" rx="5" fill="#640606" fill-opacity="0.75"/>
<rect x="1246.7" y="926.2" width="9.2" height="9.6" rx="2.5" fill="#b80c0c" fill-opacity="1"/>
<rect x="1074.3" y="921.0" width="20.0" height="20.0" rx="5" fill="#8c0808" fill-opacity="0.8"/>
<rect x="1078.7" y="925.2" width="11.2" height="11.6" rx="2.5" fill="#ee1212" fill-opacity="1"/>
<rect x="1184.7" y="921.3" width="20.0" height="20.0" rx="5" fill="#8c0808" fill-opacity="0.8"/>
<rect x="1189.1" y="925.5" width="11.2" height="11.6" rx="2.5" fill="#ee1212" fill-opacity="1"/>
<rect x="1129.6" y="921.2" width="21.6" height="20.4" rx="2" fill="#a80a0a" fill-opacity="0.9"/>
<rect x="1133.4" y="924.8" width="14.0" height="13.2" rx="1" fill="#f01414" fill-opacity="1"/>
</g>
<g transform="translate(69 743.8) scale(0.86 1)">
<text x="0" y="0" font-family='"DejaVu Sans", "Liberation Sans", sans-serif' font-size="52" font-weight="bold" font-style="normal" text-anchor="start" fill="#000">c</text>
</g>
<text x="64.80000000000001" y="770.0" font-family='"DejaVu Sans", "Liberation Sans", sans-serif' font-size="24" font-weight="normal" font-style="normal" text-anchor="end" fill="#111">40</text>
<text x="63.800000000000004" y="1113.6000000000001" font-family='"DejaVu Sans", "Liberation Sans", sans-serif' font-size="24" font-weight="normal" font-style="normal" text-anchor="end" fill="#111">-40</text>
<text x="53.900000000000006" y="1142.3000000000002" font-family='"DejaVu Sans", "Liberation Sans", sans-serif' font-size="24" font-weight="normal" font-style="normal" text-anchor="start" fill="#111">-40</text>
<text x="432.8" y="1142.3000000000002" font-family='"DejaVu Sans", "Liberation Sans", sans-serif' font-size="24" font-weight="normal" font-style="normal" text-anchor="end" fill="#111">40</text>
<text x="169.3" y="1142.3000000000002" font-family='"DejaVu Sans", "Liberation Sans", sans-serif' font-size="24" fill="#111" textLength="146" lengthAdjust="spacingAndGlyphs">x<tspan font-size="15" dy="4">1</tspan><tspan dy="-4">-x</tspan><tspan font-size="15" dy="4">2</tspan><tspan dy="-4"> / pixel</tspan></text>
<text x="51.800000000000004" y="1012.0000000000001" transform="rotate(-90 51.800000000000004 1012.0000000000001)" font-family='"DejaVu Sans", "Liberation Sans", sans-serif' font-size="24" fill="#111" textLength="146" lengthAdjust="spacingAndGlyphs">y<tspan font-size="15" dy="4">1</tspan><tspan dy="-4">-y</tspan><tspan font-size="15" dy="4">2</tspan><tspan dy="-4"> / pixel</tspan></text>
<g transform="translate(512.5 744.0) scale(0.86 1)">
<text x="0" y="0" font-family='"DejaVu Sans", "Liberation Sans", sans-serif' font-size="52" font-weight="bold" font-style="normal" text-anchor="start" fill="#000">d</text>
</g>
<text x="509.19999999999993" y="770.2" font-family='"DejaVu Sans", "Liberation Sans", sans-serif' font-size="24" font-weight="normal" font-style="normal" text-anchor="end" fill="#111">40</text>
<text x="508.19999999999993" y="1113.7" font-family='"DejaVu Sans", "Liberation Sans", sans-serif' font-size="24" font-weight="normal" font-style="normal" text-anchor="end" fill="#111">-40</text>
<text x="498.29999999999995" y="1142.4" font-family='"DejaVu Sans", "Liberation Sans", sans-serif' font-size="24" font-weight="normal" font-style="normal" text-anchor="start" fill="#111">-40</text>
<text x="876.9" y="1142.4" font-family='"DejaVu Sans", "Liberation Sans", sans-serif' font-size="24" font-weight="normal" font-style="normal" text-anchor="end" fill="#111">40</text>
<text x="613.55" y="1142.4" font-family='"DejaVu Sans", "Liberation Sans", sans-serif' font-size="24" fill="#111" textLength="146" lengthAdjust="spacingAndGlyphs">x<tspan font-size="15" dy="4">1</tspan><tspan dy="-4">-x</tspan><tspan font-size="15" dy="4">2</tspan><tspan dy="-4"> / pixel</tspan></text>
<text x="496.19999999999993" y="1012.15" transform="rotate(-90 496.19999999999993 1012.15)" font-family='"DejaVu Sans", "Liberation Sans", sans-serif' font-size="24" fill="#111" textLength="146" lengthAdjust="spacingAndGlyphs">y<tspan font-size="15" dy="4">1</tspan><tspan dy="-4">-y</tspan><tspan font-size="15" dy="4">2</tspan><tspan dy="-4"> / pixel</tspan></text>
<g transform="translate(956.5 741.8) scale(0.86 1)">
<text x="0" y="0" font-family='"DejaVu Sans", "Liberation Sans", sans-serif' font-size="52" font-weight="bold" font-style="normal" text-anchor="start" fill="#000">e</text>
</g>
<text x="953.4" y="768.0" font-family='"DejaVu Sans", "Liberation Sans", sans-serif' font-size="24" font-weight="normal" font-style="normal" text-anchor="end" fill="#111">40</text>
<text x="952.4" y="1111.6000000000001" font-family='"DejaVu Sans", "Liberation Sans", sans-serif' font-size="24" font-weight="normal" font-style="normal" text-anchor="end" fill="#111">-40</text>
<text x="942.5" y="1140.3000000000002" font-family='"DejaVu Sans", "Liberation Sans", sans-serif' font-size="24" font-weight="normal" font-style="normal" text-anchor="start" fill="#111">-40</text>
<text x="1321.0" y="1140.3000000000002" font-family='"DejaVu Sans", "Liberation Sans", sans-serif' font-size="24" font-weight="normal" font-style="normal" text-anchor="end" fill="#111">40</text>
<text x="1057.7" y="1140.3000000000002" font-family='"DejaVu Sans", "Liberation Sans", sans-serif' font-size="24" fill="#111" textLength="146" lengthAdjust="spacingAndGlyphs">x<tspan font-size="15" dy="4">1</tspan><tspan dy="-4">-x</tspan><tspan font-size="15" dy="4">2</tspan><tspan dy="-4"> / pixel</tspan></text>
<text x="940.4" y="1010.0000000000001" transform="rotate(-90 940.4 1010.0000000000001)" font-family='"DejaVu Sans", "Liberation Sans", sans-serif' font-size="24" fill="#111" textLength="146" lengthAdjust="spacingAndGlyphs">y<tspan font-size="15" dy="4">1</tspan><tspan dy="-4">-y</tspan><tspan font-size="15" dy="4">2</tspan><tspan dy="-4"> / pixel</tspan></text>
<rect x="1342.8" y="746.6" width="19.4" height="362.6" fill="url(#hot)" stroke="#555" stroke-width="1"/>
<path d="M1362 794.5h-4M1362 858h-4M1362 921h-4M1362 985h-4M1362 1048h-4" stroke="#553" stroke-width="1" fill="none" opacity="0.7"/>
<text x="1366.5" y="765.5" font-family='"DejaVu Sans", "Liberation Sans", sans-serif' font-size="24" font-weight="normal" font-style="normal" text-anchor="start" fill="#111" textLength="26" lengthAdjust="spacingAndGlyphs">11</text>
<text x="1366.5" y="1108" font-family='"DejaVu Sans", "Liberation Sans", sans-serif' font-size="24" font-weight="normal" font-style="normal" text-anchor="start" fill="#111">0</text>
<text x="1403.5" y="785.5" transform="rotate(90 1403.5 785.5)" font-family='"DejaVu Sans", "Liberation Sans", sans-serif' font-size="24" fill="#111" textLength="296" lengthAdjust="spacingAndGlyphs">Correlations (a.u. x10<tspan font-size="15" dy="-9">5</tspan><tspan dy="9">)</tspan></text>
</svg>
</body></html>
